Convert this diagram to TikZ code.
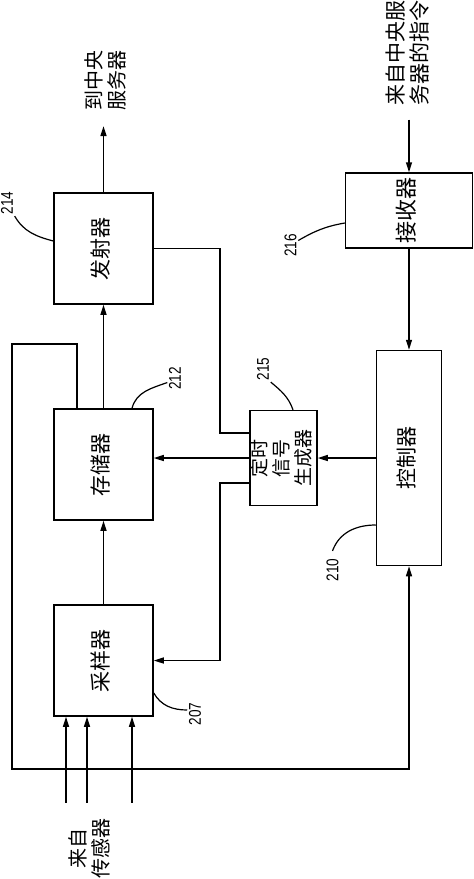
\documentclass[tikz,border=0pt]{standalone}
\usepackage{fontspec}
\usetikzlibrary{arrows.meta,calc}
\newfontfamily\cjk{Noto Sans CJK SC}
\newfontfamily\numfont[FakeStretch=0.8]{Liberation Sans}
% rotated texts, as in the drawing
\newcommand{\vtext}[2][\fontsize{21}{24}]{\rotatebox{90}{\cjk#1\selectfont\begin{tabular}{@{}c@{}}#2\end{tabular}}}
\newcommand{\vnum}[1]{\rotatebox{90}{\numfont\fontsize{17}{20}\selectfont #1}}

\begin{document}
\begin{tikzpicture}[x=1pt,y=-1pt,line width=1.5pt,
  box/.style 2 args={draw,inner sep=0pt,minimum width=#1pt,minimum height=#2pt},
  arr/.style={-{Triangle[length=10pt,width=6pt]}},
  lead/.style={line width=1.2pt},
  num/.style={inner sep=1pt}]
\useasboundingbox (0,0) rectangle (474,879);

% blocks
\node[box={99}{111}] (tx) at (103.5,248.5) {\vtext{发射器}};
\node[box={99}{111}] (st) at (103.5,464.5) {\vtext{存储器}};
\node[box={99}{111}] (sa) at (103.5,660.5) {\vtext{采样器}};
\node[box={67}{95}] (tg) at (283.5,458) {\vtext[\fontsize{19}{21}]{定时\\信号\\生成器}};
\node[box={65}{215}] (ct) at (409,458) {\vtext{控制器}};
\node[box={127}{75}] (rx) at (409,210.5) {\vtext[\fontsize{22}{24}]{接收器}};

% outside texts
\node (out) at (107.5,80) {\vtext[\fontsize{20}{21}]{到中央\\服务器}};
\node (in) at (410,53) {\vtext[\fontsize{21}{20}]{来自中央服\\务器的指令}};
\node (sens) at (92,848) {\vtext[\fontsize{20}{21}]{来自\\传感器}};

% reference numbers
\node[num] (n214) at (7,203) {\vnum{214}};
\node[num] (n216) at (290.5,245.5) {\vnum{216}};
\node[num] (n212) at (175,378.5) {\vnum{212}};
\node[num] (n215) at (263,369) {\vnum{215}};
\node[num] (n210) at (332.5,570) {\vnum{210}};
\node[num] (n207) at (195,714) {\vnum{207}};

% signal path
\foreach \dx in {-37.5,-16.5,28.5}
  \draw[arr] ([xshift=\dx pt]sa.south) ++(0,86) -- ([xshift=\dx pt]sa.south);
\draw[arr] (sa.north) -- (st.south);
\draw[arr] (st.north) -- (tx.south);
\draw[arr,shorten >=12pt] (tx.north) -- (tx.north |- out.south);
\draw[arr,shorten <=10pt] (in.south -| rx.north) -- (rx.north);
\draw[arr] (rx.south) -- (ct.north);
\draw[arr] (ct.west) -- (tg.east);
\draw ([yshift=25pt]tg.west) -| ([xshift=66pt]tx.east) -- (tx.east);
\draw[arr] (tg.west) -- (tg.west -| st.east);
\draw[arr] ([yshift=-25pt]tg.west) -| ([xshift=66pt]sa.east) -- (sa.east);

% feedback loop
\coordinate (fbtop) at (12,344);
\coordinate (fbbot) at (12,769);
\draw[arr] ([xshift=-26.5pt]st.north) |- (fbtop) -- (fbbot) -| (ct.south);

% leaders
\draw[lead] ([yshift=7.5pt]tx.west) to[out=165,in=-60] (n214.south east);
\draw[lead] ([yshift=-12.5pt]rx.west) to[out=190,in=30] ([yshift=5pt]n216.east);
\draw[lead] ([xshift=28.5pt]st.north) to[out=75,in=200] ([yshift=-4pt]n212.west);
\draw[lead] ([xshift=9.5pt]tg.north) to[out=110,in=-40] (n215.south east);
\draw[lead] ([yshift=-67pt]ct.west) to[out=180,in=70] ([yshift=6pt]n210.north);
\draw[lead] ([yshift=-32.5pt]sa.east) to[out=-60,in=180] ([yshift=4pt]n207.west);
\end{tikzpicture}
\end{document}
